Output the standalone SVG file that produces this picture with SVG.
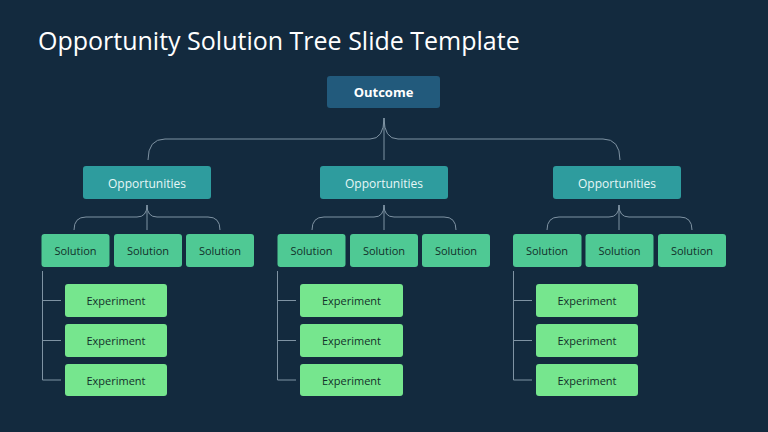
<svg xmlns="http://www.w3.org/2000/svg" width="768" height="432" viewBox="0 0 768 432">
<style>
.t{font-family:"Open Sans","Liberation Sans",sans-serif;text-anchor:middle;dominant-baseline:central}
.out{fill:#225a7c}
.opp{fill:#2e9c9e}
.sol{fill:#4fc994}
.exp{fill:#76e68e}
.ln{fill:none;stroke:#7f93a3;stroke-width:1}
.to{font-size:13px;font-weight:bold;fill:#ffffff}
.tp{font-size:12px;fill:#e6f7f7}
.ts{font-size:11px;fill:#12302a}
.te{font-size:11px;fill:#12302a}
</style>
<rect width="768" height="432" fill="#132a3e"/>
<text x="38" y="50" font-family="Open Sans,Liberation Sans,sans-serif" font-size="25" fill="#ffffff">Opportunity Solution Tree Slide Template</text>
<g id="connectors">
<path class="ln" d="M148,160 Q148,139 165,139 H370 Q384,139 384,118 Q384,139 398,139 H603 Q620,139 620,160 M384,118 V160"/>
<path class="ln" d="M74,230 Q74,217 86,217 H137 Q147,217 147,205 Q147,217 157,217 H208 Q220,217 220,230 M147,205 V230"/>
<path class="ln" d="M312,230 Q312,217 324,217 H374 Q384,217 384,205 Q384,217 394,217 H444 Q456,217 456,230 M384,205 V230"/>
<path class="ln" d="M547,230 Q547,217 559,217 H609 Q619,217 619,205 Q619,217 629,217 H680 Q692,217 692,230 M619,205 V230"/>
<path class="ln" d="M42.5,271 V380 H61 M42.5,300.5 H61 M42.5,340.5 H61"/>
<path class="ln" d="M277.5,271 V380 H296 M277.5,300.5 H296 M277.5,340.5 H296"/>
<path class="ln" d="M513.5,271 V380 H532 M513.5,300.5 H532 M513.5,340.5 H532"/>
</g>
<g id="outcome"><rect class="out" x="327" y="76" width="113" height="32" rx="3"/><text class="t to" x="383.5" y="92">Outcome</text></g>
<g id="opp1"><rect class="opp" x="83" y="166" width="128" height="33" rx="3"/><text class="t tp" x="147" y="183">Opportunities</text></g>
<g id="opp2"><rect class="opp" x="320" y="166" width="128" height="33" rx="3"/><text class="t tp" x="384" y="183">Opportunities</text></g>
<g id="opp3"><rect class="opp" x="553" y="166" width="128" height="33" rx="3"/><text class="t tp" x="617" y="183">Opportunities</text></g>
<g id="sol1a"><rect class="sol" x="41.5" y="234" width="68" height="33" rx="3"/><text class="t ts" x="75.5" y="250.5">Solution</text></g>
<g id="sol1b"><rect class="sol" x="114" y="234" width="68" height="33" rx="3"/><text class="t ts" x="148" y="250.5">Solution</text></g>
<g id="sol1c"><rect class="sol" x="186" y="234" width="68" height="33" rx="3"/><text class="t ts" x="220" y="250.5">Solution</text></g>
<g id="sol2a"><rect class="sol" x="277.5" y="234" width="68" height="33" rx="3"/><text class="t ts" x="311.5" y="250.5">Solution</text></g>
<g id="sol2b"><rect class="sol" x="350" y="234" width="68" height="33" rx="3"/><text class="t ts" x="384" y="250.5">Solution</text></g>
<g id="sol2c"><rect class="sol" x="422" y="234" width="68" height="33" rx="3"/><text class="t ts" x="456" y="250.5">Solution</text></g>
<g id="sol3a"><rect class="sol" x="513" y="234" width="68.5" height="33" rx="3"/><text class="t ts" x="547" y="250.5">Solution</text></g>
<g id="sol3b"><rect class="sol" x="585.5" y="234" width="68" height="33" rx="3"/><text class="t ts" x="619.5" y="250.5">Solution</text></g>
<g id="sol3c"><rect class="sol" x="658" y="234" width="68" height="33" rx="3"/><text class="t ts" x="692" y="250.5">Solution</text></g>
<g id="exp1a"><rect class="exp" x="65" y="284" width="102" height="33" rx="3"/><text class="t te" x="116" y="300.5">Experiment</text></g>
<g id="exp1b"><rect class="exp" x="65" y="324" width="102" height="33" rx="3"/><text class="t te" x="116" y="340.5">Experiment</text></g>
<g id="exp1c"><rect class="exp" x="65" y="364" width="102" height="32" rx="3"/><text class="t te" x="116" y="380">Experiment</text></g>
<g id="exp2a"><rect class="exp" x="300" y="284" width="103" height="33" rx="3"/><text class="t te" x="351.5" y="300.5">Experiment</text></g>
<g id="exp2b"><rect class="exp" x="300" y="324" width="103" height="33" rx="3"/><text class="t te" x="351.5" y="340.5">Experiment</text></g>
<g id="exp2c"><rect class="exp" x="300" y="364" width="103" height="32" rx="3"/><text class="t te" x="351.5" y="380">Experiment</text></g>
<g id="exp3a"><rect class="exp" x="536" y="284" width="102" height="33" rx="3"/><text class="t te" x="587" y="300.5">Experiment</text></g>
<g id="exp3b"><rect class="exp" x="536" y="324" width="102" height="33" rx="3"/><text class="t te" x="587" y="340.5">Experiment</text></g>
<g id="exp3c"><rect class="exp" x="536" y="364" width="102" height="32" rx="3"/><text class="t te" x="587" y="380">Experiment</text></g>
</svg>
